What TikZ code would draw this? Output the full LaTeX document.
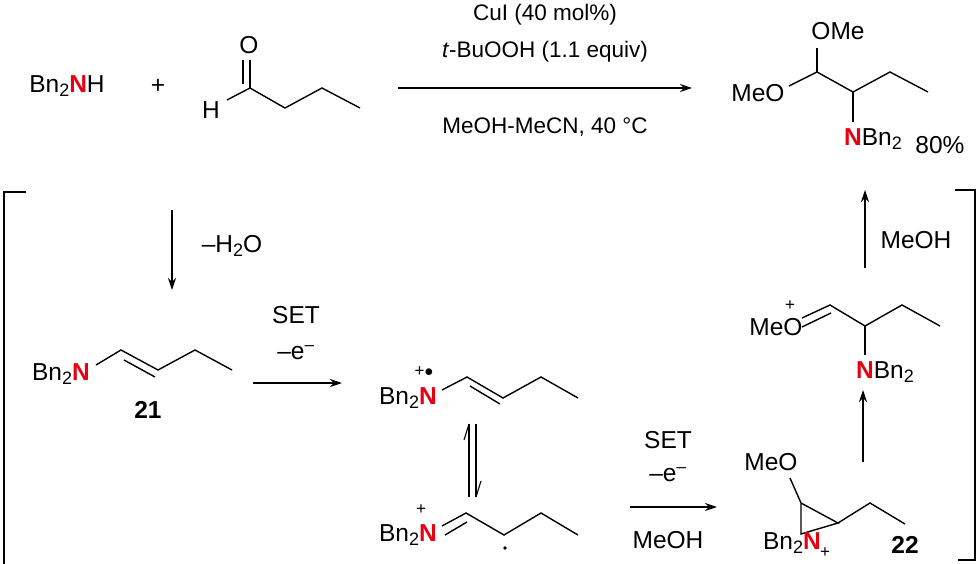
\documentclass[tikz,border=0pt]{standalone}
\usepackage{fontspec}
\setmainfont{Liberation Sans}
\usetikzlibrary{arrows.meta}
\definecolor{nred}{RGB}{230,0,18}
\newcommand{\Nr}{\textcolor{nred}{\textbf{N}}}
\newcommand{\sbs}[1]{\raisebox{-0.35ex}{\fontsize{18}{18}\selectfont #1}}
\tikzset{bd/.style={line width=1.4pt},
 lbl/.style={inner sep=0pt,font=\fontsize{24.5}{28}\selectfont},
 cnd/.style={inner sep=0pt,font=\fontsize{22.5}{26}\selectfont},
 sml/.style={inner sep=0pt,font=\fontsize{17}{17}\selectfont},
 rxn/.style={line width=1.2pt,-{Stealth[length=12pt,width=8pt]}},
 cmpd/.style={inner sep=0pt,font=\fontsize{24.5}{28}\selectfont\bfseries}}
\begin{document}
\begin{tikzpicture}[x=1pt,y=-1pt]
\useasboundingbox (0,0) rectangle (980,564);
% top row
\node[lbl] (amine) at (67,86) {Bn\sbs{2}\Nr H};
\node[lbl] (plus) at (158,86) {+};
\node[lbl] (O1) at (249,45) {O};
\node[lbl] (H1) at (211,110) {H};
\draw[bd] (227,100) -- (250,88) -- (285,108) -- (322,88) -- (360,108);
\draw[bd] (250,88) -- (250,60);
\draw[bd] (243,84) -- (243,60);
\coordinate (a1) at (398,88); \coordinate (a2) at (692,88);
\draw[rxn] (a1) -- (a2);
\node[cnd] (c1) at (545,15) {CuI (40 mol\%)};
\node[cnd] (c2) at (545,52) {\textit{t}-BuOOH (1.1 equiv)};
\node[cnd] (c3) at (545,127) {MeOH-MeCN, 40 °C};
% product
\node[lbl] (pOMe) at (838,31) {OMe};
\node[lbl] (pMeO) at (758,93) {MeO};
\draw[bd] (817,48) -- (817,72);
\draw[bd] (789,86) -- (817,72) -- (853,92) -- (890,72) -- (928,92);
\draw[bd] (853,92) -- (853,122);
\node[lbl,anchor=west] (pN) at (844,139) {\Nr Bn\sbs{2}};
\node[lbl] (yield) at (940,145) {80\%};
% brackets
\draw[line width=1.1pt] (26,192) -- (4,192) -- (4,564);
\draw[line width=1.1pt] (955,190) -- (975,190) -- (975,560) -- (958,560);
% dehydration
\coordinate (d1) at (172,210); \coordinate (d2) at (172,290);
\draw[rxn] (d1) -- (d2);
\node[lbl] (h2o) at (232,246) {\textendash H\sbs{2}O};
% 21
\node[lbl,anchor=east] (n21) at (90,374) {Bn\sbs{2}\Nr};
\draw[bd] (96,365) -- (121,350) -- (158,370) -- (195,350) -- (232,370);
\draw[bd] (124,360) -- (155,377);
\node[cmpd] (l21) at (148,410) {21};
\coordinate (s1) at (253,383); \coordinate (s2) at (342,383);
\draw[rxn] (s1) -- (s2);
\node[lbl] (set1) at (296,315) {SET};
\node[lbl] (e1) at (296,353) {\textendash e\textsuperscript{\textendash}};
% radical cation
\node[lbl,anchor=east] (nrc) at (437,398) {Bn\sbs{2}\Nr};
\node[sml] (rc) at (424,372) {+$\bullet$};
\draw[bd] (442,390) -- (467,377) -- (503,398) -- (541,377) -- (578,398);
\draw[bd] (470,386) -- (500,404);
% equilibrium
\draw[line width=1.1pt] (469,497) -- (469,424);
\draw[line width=1.1pt] (469,424) -- (464,440);
\draw[line width=1.1pt] (476,424) -- (476,497);
\draw[line width=1.1pt] (476,497) -- (481,481);
% iminium
\node[lbl,anchor=east] (nim) at (437,535) {Bn\sbs{2}\Nr};
\node[sml] (imp) at (421,510) {+};
\draw[bd] (442,526) -- (466,513) -- (504,535) -- (541,513) -- (578,535);
\draw[bd] (445,535) -- (467,522);
\fill (505,548) circle (1.8pt);
% SET 2
\coordinate (t1) at (630,507); \coordinate (t2) at (717,507);
\draw[rxn] (t1) -- (t2);
\node[lbl] (set2) at (668,440) {SET};
\node[lbl] (e2) at (668,475) {\textendash e\textsuperscript{\textendash}};
\node[lbl] (meoh2) at (668,540) {MeOH};
% 22
\node[lbl] (zMeO) at (771,462) {MeO};
\draw[bd] (790,478) -- (801,503) -- (838,523) -- (801,534) -- (801,503);
\draw[bd] (838,523) -- (870,503) -- (905,524);
\node[lbl,anchor=east] (zN) at (821,543) {Bn\sbs{2}\Nr};
\node[sml] (zp) at (825,553) {+};
\node[cmpd] (l22) at (905,545) {22};
\coordinate (u1) at (863,462); \coordinate (u2) at (863,390);
\draw[rxn] (u1) -- (u2);
% oxocarbenium
\node[lbl] (oMeO) at (776,327) {MeO};
\node[sml] (op) at (790,306) {+};
\draw[bd] (802,318) -- (830,305) -- (865,326) -- (902,305) -- (940,326);
\draw[bd] (802,327) -- (831,313);
\draw[bd] (865,326) -- (865,355);
\node[lbl,anchor=west] (oN) at (856,372) {\Nr Bn\sbs{2}};
\coordinate (v1) at (865,268); \coordinate (v2) at (865,190);
\draw[rxn] (v1) -- (v2);
\node[lbl] (meoh3) at (916,240) {MeOH};
\end{tikzpicture}
\end{document}
